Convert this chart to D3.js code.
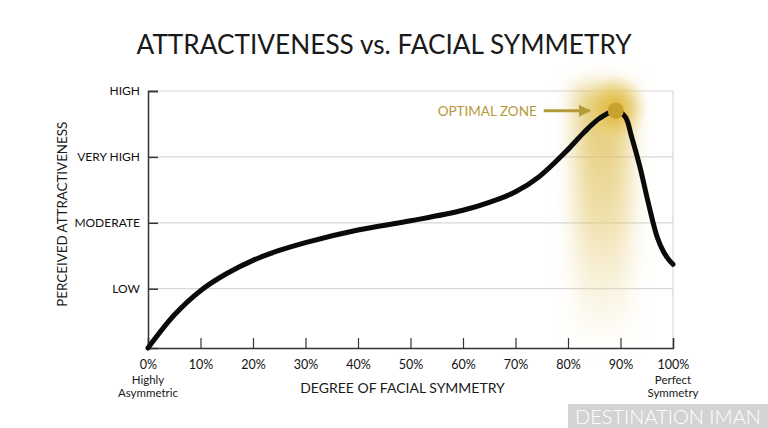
<!DOCTYPE html>
<html>
<head>
<meta charset="utf-8">
<script src="https://cdn.jsdelivr.net/npm/d3@7"></script>
<style>
  body { margin: 0; background: #fff; }
  svg { display: block; }
</style>
</head>
<body>
<div class="chart"></div>
<script>
// symmetry (%) vs perceived attractiveness (1 = low ... 4 = high)
var symmetry = [0, 5, 10, 15, 20, 25, 30, 40, 50, 60, 65, 70, 74.5, 79.6, 82.9, 86.1, 89.1, 90.9, 92.1, 93.7, 95.3, 97, 98.2, 99.2, 100];
var attract  = [0.1, 0.6, 0.97, 1.23, 1.43, 1.58, 1.7, 1.89, 2.03, 2.19, 2.31, 2.47, 2.7, 3.08, 3.36, 3.59, 3.7, 3.61, 3.31, 2.85, 2.3, 1.78, 1.56, 1.44, 1.37];

var xTicks = [0, 10, 20, 30, 40, 50, 60, 70, 80, 90, 100];
var yTicks = [1, 2, 3, 4];
var yTickLabels = ["LOW", "MODERATE", "VERY HIGH", "HIGH"];

var peakIndex = 16;
var gold = "#c9a12e";

var width = 768, height = 428;
var margin = {top: 91, right: 95, bottom: 80, left: 148};

var svg = d3.select(".chart")
  .append("svg")
    .attr("width", width)
    .attr("height", height)
    .style("font-family", "Lato, 'Open Sans', sans-serif");

var x = d3.scaleLinear()
  .domain([0, 100])
  .range([margin.left, width - margin.right]);

var y = d3.scaleLinear()
  .domain([0.1, 4])
  .range([height - margin.bottom, margin.top]);

var defs = svg.append("defs");

// glow effects
var colGrad = defs.append("linearGradient")
  .attr("id", "colGrad")
  .attr("x1", 0).attr("y1", 0).attr("x2", 0).attr("y2", 1);
colGrad.append("stop").attr("offset", "0%").attr("stop-color", "#dcbc4c").attr("stop-opacity", 0.85);
colGrad.append("stop").attr("offset", "50%").attr("stop-color", "#e2c462").attr("stop-opacity", 0.55);
colGrad.append("stop").attr("offset", "78%").attr("stop-color", "#ead38a").attr("stop-opacity", 0.3);
colGrad.append("stop").attr("offset", "100%").attr("stop-color", "#f2e4b4").attr("stop-opacity", 0.08);

defs.append("filter")
  .attr("id", "blur")
  .attr("x", "-80%").attr("y", "-20%").attr("width", "260%").attr("height", "140%")
  .append("feGaussianBlur")
    .attr("stdDeviation", 11);

var dotGrad = defs.append("radialGradient").attr("id", "dotGrad");
dotGrad.append("stop").attr("offset", "0%").attr("stop-color", "#dcb22c").attr("stop-opacity", 0.9);
dotGrad.append("stop").attr("offset", "50%").attr("stop-color", "#e4c14e").attr("stop-opacity", 0.55);
dotGrad.append("stop").attr("offset", "100%").attr("stop-color", "#f0dc90").attr("stop-opacity", 0);

// title
svg.append("text")
  .attr("x", width / 2)
  .attr("y", 54)
  .attr("text-anchor", "middle")
  .attr("font-size", 26)
  .attr("fill", "#1a1a1a")
  .attr("textLength", 495)
  .attr("lengthAdjust", "spacingAndGlyphs")
  .text("ATTRACTIVENESS vs. FACIAL SYMMETRY");

// gridlines
svg.append("g")
  .selectAll("line")
  .data(yTicks)
  .enter()
    .append("line")
      .attr("x1", x(0))
      .attr("x2", x(100))
      .attr("y1", function(d) { return y(d); })
      .attr("y2", function(d) { return y(d); })
      .attr("stroke", "#d8d8d8")
      .attr("stroke-width", 1.2);

svg.append("line")
  .attr("x1", x(100)).attr("x2", x(100))
  .attr("y1", y(4)).attr("y2", y(0.1))
  .attr("stroke", "#d8d8d8")
  .attr("stroke-width", 1.2);

// optimal zone glow
var peakX = x(symmetry[peakIndex]), peakY = y(attract[peakIndex]);
svg.append("rect")
  .attr("x", peakX - 40)
  .attr("y", y(4) - 4)
  .attr("width", 54)
  .attr("height", y(0.1) - y(4) - 2)
  .attr("fill", "url(#colGrad)")
  .attr("filter", "url(#blur)");

svg.append("ellipse")
  .attr("cx", peakX)
  .attr("cy", peakY - 2)
  .attr("rx", 32)
  .attr("ry", 34)
  .attr("fill", "url(#dotGrad)");

// axes
var yAxis = d3.axisLeft(y)
  .tickValues(yTicks)
  .tickSize(-10)
  .tickPadding(8)
  .tickFormat(function(d, i) { return yTickLabels[i]; });

var yg = svg.append("g")
  .attr("transform", "translate(" + x(0) + ",0)")
  .call(yAxis);
yg.select(".domain").attr("stroke", "#333").attr("stroke-width", 1.5);
yg.selectAll(".tick line").attr("stroke", "#333").attr("stroke-width", 1.5);
yg.selectAll(".tick text")
  .attr("x", -8)
  .attr("font-size", 12)
  .attr("font-family", "Lato, sans-serif")
  .attr("fill", "#111");

var xAxis = d3.axisBottom(x)
  .tickValues(xTicks)
  .tickSize(-10)
  .tickPadding(8)
  .tickFormat(function(d) { return d + "%"; });

var xg = svg.append("g")
  .attr("transform", "translate(0," + y(0.1) + ")")
  .call(xAxis);
xg.select(".domain").attr("stroke", "#333").attr("stroke-width", 1.5);
xg.selectAll(".tick line").attr("stroke", "#333").attr("stroke-width", 1.2);
xg.selectAll(".tick text")
  .attr("y", 12)
  .attr("font-size", 12.5)
  .attr("font-family", "Lato, sans-serif")
  .attr("fill", "#111");

// extremity notes under 0% and 100%
var notes = [
  {v: 0, lines: ["Highly", "Asymmetric"]},
  {v: 100, lines: ["Perfect", "Symmetry"]}
];
notes.forEach(function(n) {
  n.lines.forEach(function(t, i) {
    svg.append("text")
      .attr("x", x(n.v))
      .attr("y", y(0.1) + 36 + i * 12.5)
      .attr("text-anchor", "middle")
      .attr("font-size", 11.5)
      .attr("fill", "#1a1a1a")
      .text(t);
  });
});

// axis titles
svg.append("text")
  .attr("x", (x(0) + x(100)) / 2 - 8)
  .attr("y", y(0.1) + 45)
  .attr("text-anchor", "middle")
  .attr("font-size", 14)
  .attr("fill", "#1a1a1a")
  .text("DEGREE OF FACIAL SYMMETRY");

svg.append("text")
  .attr("transform", "translate(67," + y(2.13) + ") rotate(-90)")
  .attr("text-anchor", "middle")
  .attr("font-size", 13.5)
  .attr("fill", "#1a1a1a")
  .attr("textLength", 185)
  .attr("lengthAdjust", "spacingAndGlyphs")
  .text("PERCEIVED ATTRACTIVENESS");

// the curve
var line = d3.line()
  .x(function(d, i) { return x(d); })
  .y(function(d, i) { return y(attract[i]); })
  .curve(d3.curveCatmullRom.alpha(0.5));

svg.append("path")
  .datum(symmetry)
  .attr("d", line)
  .attr("fill", "none")
  .attr("stroke", "#0a0a0a")
  .attr("stroke-width", 5)
  .attr("stroke-linecap", "round");

// peak dot and label
svg.append("circle")
  .attr("cx", peakX)
  .attr("cy", peakY)
  .attr("r", 8)
  .attr("fill", gold);

defs.append("marker")
  .attr("id", "arrow")
  .attr("viewBox", "0 0 10 10")
  .attr("refX", 9).attr("refY", 5)
  .attr("markerWidth", 4).attr("markerHeight", 4)
  .attr("orient", "auto")
  .append("path")
    .attr("d", "M0,0 L10,5 L0,10 z")
    .attr("fill", "#b39a3a");

svg.append("line")
  .attr("x1", peakX - 72)
  .attr("x2", peakX - 26)
  .attr("y1", peakY)
  .attr("y2", peakY)
  .attr("stroke", "#b39a3a")
  .attr("stroke-width", 3)
  .attr("marker-end", "url(#arrow)");

svg.append("text")
  .attr("x", peakX - 79)
  .attr("y", peakY + 5)
  .attr("text-anchor", "end")
  .attr("font-size", 13.5)
  .attr("fill", "#b39a3a")
  .text("OPTIMAL ZONE");

// watermark
svg.append("rect")
  .attr("x", 568).attr("y", 404)
  .attr("width", 200).attr("height", 24)
  .attr("fill", "#d3d3d3");
svg.append("text")
  .attr("x", 668).attr("y", 424)
  .attr("text-anchor", "middle")
  .attr("font-size", 20)
  .attr("font-weight", 300)
  .attr("fill", "#fff")
  .attr("textLength", 186)
  .attr("lengthAdjust", "spacingAndGlyphs")
  .text("DESTINATION IMAN");
</script>
</body>
</html>
